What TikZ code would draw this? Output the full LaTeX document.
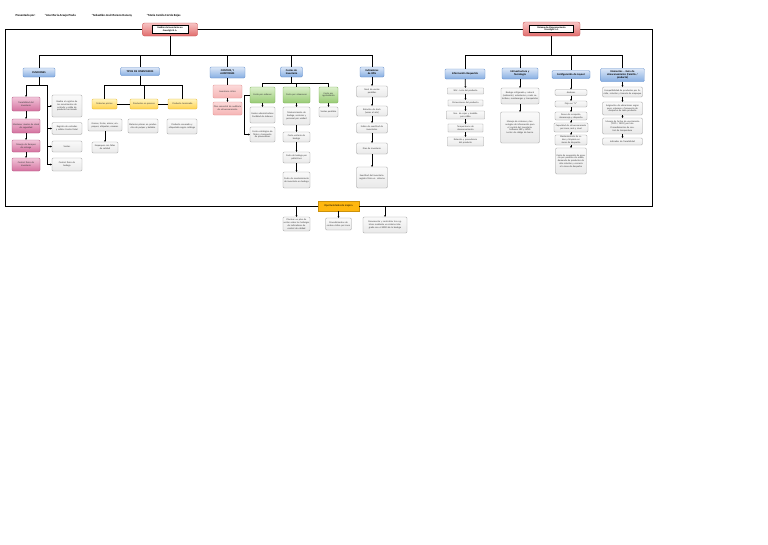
\documentclass[tikz,border=0pt]{standalone}
\usepackage{fontspec}
\setmainfont{Carlito}
\usetikzlibrary{arrows.meta,positioning}
\definecolor{hdrtop}{HTML}{DCE7F7}
\definecolor{hdrbot}{HTML}{86AEE2}
\definecolor{hdrline}{HTML}{5C8ACB}
\definecolor{funtop}{HTML}{F2C6DA}
\definecolor{funbot}{HTML}{D4729F}
\definecolor{funline}{HTML}{B24D7D}
\definecolor{audtop}{HTML}{FCDADA}
\definecolor{audbot}{HTML}{F5B4B4}
\definecolor{audline}{HTML}{E08A8A}
\definecolor{tiptop}{HTML}{FFF4BF}
\definecolor{tipbot}{HTML}{FFD24D}
\definecolor{tipline}{HTML}{E5B52A}
\definecolor{costop}{HTML}{DCF0CC}
\definecolor{cosbot}{HTML}{98CB74}
\definecolor{cosline}{HTML}{78B053}
\definecolor{gtop}{HTML}{FAFAFA}
\definecolor{gbot}{HTML}{E9E9E9}
\definecolor{gline}{HTML}{9E9E9E}
\definecolor{ttltop}{HTML}{F8C4C4}
\definecolor{ttlbot}{HTML}{E06C6C}
\definecolor{ttlline}{HTML}{C84E4E}
\definecolor{mejfill}{HTML}{FFB70F}
\definecolor{txtgrey}{HTML}{3A3A3A}
\tikzset{
  sz/.code 2 args={\pgfmathsetmacro\boxtw{#1-1.2}%
    \edef\boxkeys{\noexpand\pgfkeysalso{minimum width=#1pt,text width=\boxtw pt,minimum height=#2pt}}\boxkeys},
}

\begin{document}
\begin{tikzpicture}[x=1pt,y=-1pt,font=\fontsize{2.4}{2.8}\selectfont,
  box/.style={align=center,inner xsep=0.6pt,inner ysep=0.3pt,rounded corners=1.2pt,line width=0.35pt},
  hdr/.style={box,draw=hdrline,top color=hdrtop,bottom color=hdrbot,font=\fontsize{2.7}{3.1}\selectfont\bfseries},
  fn/.style={box,draw=funline,top color=funtop,bottom color=funbot,text=txtgrey},
  au/.style={box,draw=audline,top color=audtop,bottom color=audbot,text=txtgrey},
  tp/.style={box,draw=tipline,top color=tiptop,bottom color=tipbot,text=txtgrey},
  cs/.style={box,draw=cosline,top color=costop,bottom color=cosbot,text=txtgrey},
  gbox/.style={box,draw=gline,top color=gtop,bottom color=gbot,text=txtgrey},
  sq/.style={gbox,rounded corners=0.3pt},
  ttl/.style={box,draw=ttlline,top color=ttltop,bottom color=ttlbot,rounded corners=2pt},
  ttlin/.style={draw,fill=white,line width=0.6pt,align=center,inner sep=0.4pt,font=\fontsize{2.4}{2.7}\selectfont\bfseries},
  mej/.style={fill=mejfill,draw=mejfill!80!black,line width=0.3pt,align=center,inner sep=0.4pt,font=\fontsize{2.7}{3}\selectfont},
  tree/.style={line width=0.9pt},
  arr/.style={line width=0.7pt,-{Stealth[length=1.6pt,width=1.9pt]}}]
\useasboundingbox[fill=white] (0,0) rectangle (768,544);

\node[anchor=west,font=\fontsize{3}{3.4}\selectfont\bfseries] (pres) at (12,16) {Presentado por:};
\node[anchor=west,font=\fontsize{3}{3.4}\selectfont\bfseries] (aut1) at (41,16) {*Ana María Araujo Prada};
\node[anchor=west,font=\fontsize{3}{3.4}\selectfont\bfseries] (aut2) at (88,16) {*Sebastián José Moreno Hanuny};
\node[anchor=west,font=\fontsize{3}{3.4}\selectfont\bfseries] (aut3) at (143,16) {*María Camila Cortés Rojas};

\draw[line width=0.8pt] (5,29) rectangle (652,206);

\node[ttl,sz={55}{13}] (tleft) at (170,29.5) {};
\node[ttlin,minimum width=36pt,minimum height=8pt] (tleftin) at (tleft) {Gestión de Inventarios en\\Grasslight S.A.};
\node[ttl,sz={57}{14}] (tright) at (551.5,29) {};
\node[ttlin,minimum width=44pt,minimum height=7pt] (trightin) at (tright) {Sistema de Almacenamiento\\Grasslight S.A.};

\node[hdr,sz={32}{9}] (fun) at (39,72.5) {FUNCIONES};
\node[hdr,sz={39}{8}] (tip) at (140,71.5) {TIPOS DE INVENTARIOS};
\node[hdr,sz={35}{11}] (aud) at (227.5,72.5) {CONTROL Y\\AUDITORÍAS};
\node[hdr,sz={22}{10}] (cos) at (291.5,72) {Costos de\\Inventario};
\node[hdr,sz={24}{10}] (kpi) at (372,72) {Indicadores\\de KPIs};
\node[hdr,sz={40}{10}] (inf) at (465,74) {Información Requerida};
\node[hdr,sz={36}{11}] (itc) at (520,73.5) {Infraestructura y\\Tecnología};
\node[hdr,sz={38}{8}] (lay) at (571,74.5) {Configuración de Layout};
\node[hdr,sz={44}{13}] (gui) at (622.5,75) {Elementos – Guía de\\almacenamiento (Familia /\\producto)};

\coordinate (lbus) at (170,55);
\coordinate (rbus) at (551.5,55);
\draw[tree] (tleft.south) -- (lbus);
\draw[tree] (tright.south) -- (rbus);
\foreach \h in {fun,tip,aud,cos,kpi} \draw[tree] (lbus) -| (\h.north);
\foreach \h in {inf,itc,lay,gui} \draw[tree] (rbus) -| (\h.north);

\node[fn,sz={28}{14}] (fn1) at (26,104) {Trazabilidad del\\inventario};
\node[fn,sz={28}{14}] (fn2) at (26,126) {Mantener niveles de stock\\de seguridad};
\node[fn,sz={28}{12}] (fn3) at (26,146) {Manejo de tiempos\\de entrega};
\node[fn,sz={28}{13}] (fn4) at (26,164.5) {Control físico de\\inventario};
\node[gbox,sz={30}{22}] (fg1) at (67,106) {Realiza el registro de los movimientos de entrada y salida de producto terminado};
\node[gbox,sz={30}{12}] (fg2) at (67,128.5) {Registro de entradas y salidas Control total};
\node[gbox,sz={30}{11}] (fg3) at (67,146.5) {Ventas};
\node[gbox,sz={30}{13}] (fg4) at (67,164.5) {Control físico de\\bodega};
\coordinate (fjoin) at (39,85);
\coordinate (fline) at (47,85);
\draw[tree] (fun.south) -- (fjoin) -- (fline);
\draw[arr] (fjoin) -| (fn1.north);
\foreach \g in {fg1,fg2,fg3,fg4} \draw[arr] (fline) |- (\g.west);
\foreach \a/\b in {fn1/fn2,fn2/fn3,fn3/fn4} \draw[arr] (\a) -- (\b);

\node[tp,sz={25}{10}] (tp1) at (104.5,104) {Materias primas};
\node[tp,sz={28}{10}] (tp2) at (144,104) {Productos en proceso};
\node[tp,sz={29}{10}] (tp3) at (182.5,104) {Producto terminado};
\coordinate (tjoin) at (140,85);
\draw[tree] (tip.south) -- (tjoin);
\foreach \t in {tp1,tp2,tp3} \draw[tree] (tjoin) -| (\t.north);
\draw[tree] (tp1) -- (tp2) -- (tp3);
\node[gbox,sz={34}{12}] (tg1) at (105,125) {Granos, frutas, azúcar, empaques, etiquetas, envases};
\node[gbox,sz={26}{11}] (tg1b) at (105,147.5) {Empaques con fallas\\de calidad};
\node[gbox,sz={30}{14}] (tg2) at (143,126) {Materias primas en producción de pulpas y bebidas};
\node[gbox,sz={30}{15}] (tg3) at (182,126.5) {Producto envasado y etiquetado según catálogo};
\draw[arr] (tg1) -- (tg1b);

\node[au,sz={29}{13}] (au1) at (227.5,91.5) {Inventario cíclico};
\node[au,sz={29}{13}] (au2) at (227.5,108.5) {Plan semestral de auditoría de almacenamiento};
\draw[tree] (aud) -- (au1);
\draw[arr] (au1) -- (au2);

\node[cs,sz={25}{16}] (cs1) at (262.5,95) {Costo por ordenar};
\node[cs,sz={27}{16}] (cs2) at (296.5,95) {Costo por almacenar};
\node[cs,sz={19}{16}] (cs3) at (328.5,95) {Costo por\\agotamiento};
\coordinate (cjoin) at (291.5,83);
\draw[tree] (cos.south) -- (cjoin);
\foreach \c in {cs1,cs2,cs3} \draw[tree] (cjoin) -| (\c.north);
\node[gbox,sz={25}{16}] (co1) at (262.5,115) {Gastos administrativos Cantidad de órdenes};
\node[gbox,sz={25}{15}] (co2) at (262.5,134.5) {Costo estratégico de fletes y transporte de proveedores};
\node[gbox,sz={27}{18}] (cm1) at (296.5,116) {Mantenimiento de bodega, servicios y personal por unidad};
\node[gbox,sz={27}{10}] (cm2) at (296.5,137) {Costo unitario de\\bodega};
\node[gbox,sz={27}{11}] (cm3) at (296.5,157.5) {Costo de bodega por\\pallet/mes};
\node[gbox,sz={27}{16}] (cm4) at (296.5,180) {Costo de mantenimiento de inventario en bodega};
\node[gbox,sz={19}{10}] (ca1) at (328.5,112) {Ventas perdidas};
\foreach \a/\b in {cs1/co1,cs2/cm1,cm1/cm2,cm2/cm3,cm3/cm4,cs3/ca1} \draw[arr] (\a) -- (\b);
\draw[arr] (cs1.west) -- ++(-5,0) |- (co2.west);

\node[gbox,sz={31}{11}] (kp1) at (372,91.5) {Nivel de ventas\\perdidas};
\node[gbox,sz={31}{10}] (kp2) at (372,111) {Rotación de stock\\(veces al año)};
\node[gbox,sz={31}{10}] (kp3) at (372,128) {Índice de exactitud de\\inventarios};
\node[gbox,sz={31}{11}] (kp4) at (372,148.5) {Días de inventario};
\node[gbox,sz={31}{21}] (kp5) at (372,177.5) {Exactitud del inventario: registro físico vs. sistema};
\foreach \a/\b in {kpi/kp1,kp1/kp2,kp2/kp3,kp3/kp4,kp4/kp5} \draw[arr] (\a) -- (\b);

\node[sq,sz={36}{6}] (ir1) at (465.5,91) {SKU - Lote del producto};
\node[sq,sz={35}{6}] (ir2) at (465.5,103) {Dimensiones del producto};
\node[sq,sz={38}{8}] (ir3) at (465.5,115) {Nro. de cajas y tendido\\por estiba};
\node[sq,sz={35}{8}] (ir4) at (465.5,128) {Temperaturas de\\almacenamiento};
\node[sq,sz={36}{9}] (ir5) at (465.5,141.5) {Rotación y procedencia\\del producto};
\foreach \a/\b in {inf/ir1,ir1/ir2,ir2/ir3,ir3/ir4,ir4/ir5} \draw[arr] (\a) -- (\b);

\node[gbox,sz={38}{16}] (it1) at (520,96) {Bodega refrigerada y natural (ambiente), estanterías y racks selectivos, montacargas y transpaletas};
\node[gbox,sz={39}{31}] (it2) at (520,127.5) {Manejo de sistemas y tecnologías de información para el control del inventario:\\Software ERP y WMS\\Lector de código de barras};
\foreach \a/\b in {itc/it1,it1/it2} \draw[arr] (\a) -- (\b);

\node[gbox,sz={32}{6}] (ly1) at (571,92.5) {Andenes};
\node[gbox,sz={32}{6}] (ly2) at (571,104) {Flujo en “U”};
\node[gbox,sz={32}{8}] (ly3) at (571,116) {Zonas de recepción,\\almacenaje y despacho};
\node[gbox,sz={34}{9}] (ly4) at (571,127.5) {Capacidad de almacenamiento\\por zona, rack y nivel};
\node[gbox,sz={32}{10}] (ly5) at (571,140) {Mantenimiento de orden y limpieza en zonas de despacho};
\node[gbox,sz={31}{26}] (ly6) at (571,161) {Costo de ocupación de espacio por posición de estiba, demanda de productos de alta rotación y cercanía a la zona de despacho};
\foreach \a/\b in {lay/ly1,ly1/ly2,ly2/ly3,ly3/ly4,ly4/ly5,ly5/ly6} \draw[arr] (\a) -- (\b);

\node[gbox,sz={40}{10}] (gu1) at (622.5,92) {Compatibilidad de productos por familia, rotación y tamaño de empaque};
\node[gbox,sz={40}{13}] (gu2) at (622.5,108.5) {Asignación de ubicaciones según peso, volumen y frecuencia de despacho de cada producto};
\node[gbox,sz={40}{16}] (gu3) at (622.5,126) {Manejo de fechas de vencimiento (FIFO / FEFO) por lote\\[0.6pt]Procedimientos de control de temperatura};
\node[gbox,sz={40}{7}] (gu4) at (622.5,141.5) {Indicador de Trazabilidad};
\foreach \a/\b in {gui/gu1,gu1/gu2,gu2/gu3,gu3/gu4} \draw[arr] (\a) -- (\b);

\node[mej,minimum width=41pt,minimum height=10pt] (mej) at (338.5,206) {Oportunidades de mejora};
\node[gbox,sz={27}{14}] (mb1) at (296.5,224) {Plantear un plan de acción sobre los hallazgos de indicadores de control de calidad};
\node[gbox,sz={26}{12}] (mb2) at (338.5,224) {Procedimientos de conteo cíclico por zona};
\node[gbox,sz={44}{16}] (mb3) at (385,225) {Documentar y centralizar los registros mediante un sistema integrado con el WMS de la bodega};
\draw[arr] (mej.west) -| (mb1.north);
\draw[arr] (mej.east) -| (mb3.north);
\draw[arr] (mej) -- (mb2);
\end{tikzpicture}
\end{document}
